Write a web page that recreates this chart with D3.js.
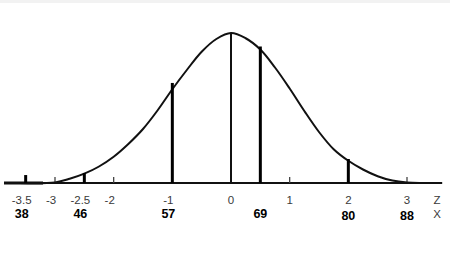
<!DOCTYPE html>
<html>
<head>
<meta charset="utf-8">
<script src="https://cdn.jsdelivr.net/npm/d3@7"></script>
<style>
  body { margin: 0; background: #fff; }
  svg { display: block; }
  .zlab { font-family: "Liberation Sans", Arial, sans-serif; font-size: 11.5px; fill: #3a3a3a; }
  .xlab { font-family: "Liberation Sans", Arial, sans-serif; font-size: 12.5px; font-weight: bold; fill: #000; }
</style>
</head>
<body>
<div id="canvas"></div>
<script>
// curve (z, relative height)
var curveZ = [-3.6, -3, -2.75, -2.5, -2.25, -2, -1.75, -1.5, -1.25, -1, -0.75, -0.5, -0.25, 0,
              0.25, 0.5, 0.75, 1, 1.25, 1.5, 1.75, 2, 2.25, 2.5, 2.75, 3, 3.6];
var curveH = [0, 0.004, 0.028, 0.062, 0.11, 0.175, 0.26, 0.36, 0.485, 0.625, 0.755, 0.875, 0.96, 1,
              0.965, 0.89, 0.77, 0.63, 0.48, 0.34, 0.225, 0.148, 0.09, 0.045, 0.016, 0.004, 0];

// z axis ticks
var zTicks = [-3.5, -3, -2.5, -2, -1, 0, 1, 2, 3];

// marked values: z position, raw score, line height
var markZ = [-3.5, -2.5, -1, 0.5, 2, 3];
var markX = [38, 46, 57, 69, 80, 88];
var markH = [0.053, 0.067, 0.667, 0.91, 0.16, 0];

var W = 450, H = 265;

var svg = d3.select('#canvas').append('svg')
    .attr('width', W).attr('height', H);

svg.append('rect').attr('x', 0).attr('y', 0).attr('width', W).attr('height', 3).attr('fill', '#f2f2f2');

var x = d3.scaleLinear().domain([-3, 3]).range([55, 407]);
var y = d3.scaleLinear().domain([0, 1]).range([183, 33]);

// axis line
svg.append('line')
    .attr('x1', 4).attr('x2', 431)
    .attr('y1', y(0)).attr('y2', y(0))
    .attr('stroke', '#111').attr('stroke-width', 2);
svg.append('line')
    .attr('x1', 4).attr('x2', 43)
    .attr('y1', y(0)).attr('y2', y(0))
    .attr('stroke', '#111').attr('stroke-width', 3);

// small ticks
svg.selectAll('.tick').data(zTicks).enter().append('line')
    .attr('x1', function(d){ return x(d); }).attr('x2', function(d){ return x(d); })
    .attr('y1', y(0)).attr('y2', y(0) - 6)
    .attr('stroke', '#444').attr('stroke-width', 1.3);

// curve
var pts = curveZ.map(function(z, i){ return [z, curveH[i]]; });
var line = d3.line()
    .x(function(d){ return x(d[0]); })
    .y(function(d){ return y(d[1]); })
    .curve(d3.curveCatmullRom.alpha(0.5));
svg.append('path').datum(pts)
    .attr('d', line)
    .attr('fill', 'none').attr('stroke', '#111').attr('stroke-width', 2);

// mean line
svg.append('line')
    .attr('x1', x(0)).attr('x2', x(0))
    .attr('y1', y(0)).attr('y2', y(1))
    .attr('stroke', '#111').attr('stroke-width', 2);

// thick markers
svg.selectAll('.mark').data(markZ.filter(function(d, i){ return markH[i] > 0; })).enter().append('line')
    .attr('x1', function(d){ return x(d); }).attr('x2', function(d){ return x(d); })
    .attr('y1', y(0))
    .attr('y2', function(d){ return y(markH[markZ.indexOf(d)]); })
    .attr('stroke', '#000').attr('stroke-width', 3);

// z labels
svg.selectAll('.zlab').data(zTicks).enter().append('text')
    .attr('class', 'zlab')
    .attr('x', function(d){ return x(d) + (d < 0 ? -4 : 0); })
    .attr('y', 204)
    .attr('text-anchor', 'middle')
    .text(function(d){ return d; });

// raw score labels
svg.selectAll('.xlab').data(markZ).enter().append('text')
    .attr('class', 'xlab')
    .attr('x', function(d){ return x(d) + (d < 0 ? -4 : 0); })
    .attr('y', function(d, i){ return markX[i] >= 80 ? 220 : 218; })
    .attr('text-anchor', 'middle')
    .text(function(d, i){ return markX[i]; });

svg.append('text').attr('class', 'zlab').attr('x', 437).attr('y', 204)
    .attr('text-anchor', 'middle').text('Z');
svg.append('text').attr('class', 'zlab').attr('x', 437).attr('y', 218)
    .attr('text-anchor', 'middle').text('X');
</script>
</body>
</html>
